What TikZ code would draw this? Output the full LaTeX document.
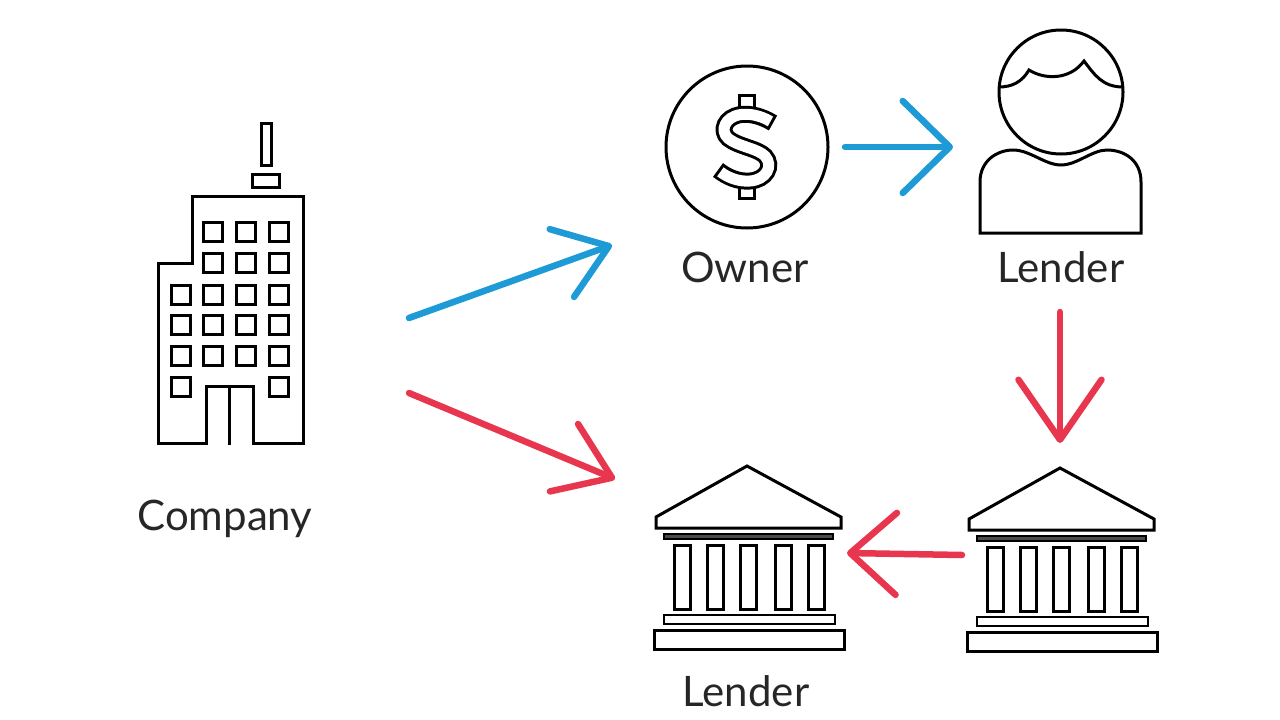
\documentclass[tikz,border=0pt]{standalone}
\usepackage{fontspec}
\setmainfont{Lato}
\usetikzlibrary{arrows.meta}

\definecolor{arrowblue}{HTML}{1E9AD6}
\definecolor{arrowred}{HTML}{E8364F}

\tikzset{
    icon/.style={line width=3pt, line join=miter},
    thinicon/.style={line width=2.6pt},
    label/.style={anchor=base, font=\fontsize{42}{48}\selectfont, text=black!85, inner sep=0pt},
    flow/.style={line width=6.5pt, line cap=round},
    bluearrow/.style={flow, arrowblue},
    redarrow/.style={flow, arrowred},
}

% Banca: stessa icona, due posizioni
\newcommand{\bankicon}{%
    \draw[icon] (0,0) -- (-91,51) -- (-91,62) -- (94,62) -- (94,51) -- cycle;
    \draw[thinicon, fill=black!70] (-83,68) rectangle (86,73);
    \foreach \colx in {-65,-32,1,36,69} {
        \draw[icon] (\colx-8,79) rectangle (\colx+8,143);
    }
    \draw[thinicon] (-83,149) rectangle (88,158);
    \draw[icon] (-93,164) rectangle (97,183);
}

\begin{document}
\begin{tikzpicture}[x=1pt, y=-1pt]
    \useasboundingbox (0,0) rectangle (1280,720);

    % --- Company (edificio) ---
    \draw[icon] (192,263) -- (192,196) -- (303,196) -- (303,443) -- (253,443) -- (253,386)
        -- (206,386) -- (206,443) -- (158,443) -- (158,263) -- cycle;
    \draw[icon] (229,386) -- (229,445);
    \draw[icon] (261,123) rectangle (271,165);
    \draw[icon] (252,174) rectangle (279,187);
    % finestre
    \foreach \winx in {213,246,279} {
        \foreach \winy in {232,263,295,325,356} {
            \draw[icon] (\winx-9.5,\winy-9.5) rectangle (\winx+9.5,\winy+9.5);
        }
    }
    \foreach \winy in {295,325,356,387} {
        \draw[icon] (181-9.5,\winy-9.5) rectangle (181+9.5,\winy+9.5);
    }
    \draw[icon] (279-9.5,387-9.5) rectangle (279+9.5,387+9.5);
    \node[label] (company) at (225,530) {Company};

    % --- Owner (moneta) ---
    \node[circle, draw, line width=3pt, minimum size=162pt, inner sep=0pt] (coin) at (747,147) {};
    \draw[line width=18pt, line cap=butt] (747,94) -- (747,112);
    \draw[white, line width=12pt, shorten <=3pt] (747,94) -- (747,114);
    \draw[line width=18pt, line cap=butt] (747,178) -- (747,200);
    \draw[white, line width=12pt, shorten >=3pt] (747,176) -- (747,200);
    \path[save path=\dollarpath] (773,123) .. controls (760,115) and (745,112) .. (735,116)
        .. controls (722,121) and (720,135) .. (732,141)
        .. controls (742,147) and (758,149) .. (765,156)
        .. controls (774,166) and (766,180) .. (750,181)
        .. controls (738,182) and (727,177) .. (718,170);
    \draw[use path=\dollarpath, line width=17pt];
    \draw[use path=\dollarpath, white, line width=11pt, shorten <=3pt, shorten >=3pt];
    \node[label] (owner) at (745,282) {Owner};

    % --- Lender (persona) ---
    \node[circle, draw, line width=3pt, minimum size=124pt, inner sep=0pt] (head) at (1061,92) {};
    \draw[icon] (999,87) .. controls (1012,87) and (1022,82) .. (1029,70)
        .. controls (1045,80) and (1070,80) .. (1084,61)
        .. controls (1094,74) and (1102,87) .. (1123,87);
    \draw[icon] (980,233) -- (980,182) .. controls (980,160) and (998,150) .. (1013,150)
        .. controls (1030,150) and (1045,165) .. (1061,165)
        .. controls (1077,165) and (1092,150) .. (1107,150)
        .. controls (1124,150) and (1141,160) .. (1141,182) -- (1141,233) -- cycle;
    \node[label] (personlabel) at (1061,282) {Lender};

    % --- Banche ---
    \begin{scope}[shift={(747,466)}]
        \bankicon
    \end{scope}
    \begin{scope}[shift={(1060,468)}]
        \bankicon
    \end{scope}
    \node[label] (banklabel) at (746,706) {Lender};

    % --- Frecce ---
    \coordinate (companyup) at (409,318);
    \coordinate (ownerin) at (612,245);
    \coordinate (companydown) at (409,393);
    \coordinate (bankin) at (615,479);
    \coordinate (coinout) at (845,147);
    \coordinate (personin) at (953,147);
    \coordinate (personout) at (1060,312);
    \coordinate (bankrightin) at (1060,443);
    \coordinate (bankrightout) at (962,555);
    \coordinate (bankleftin) at (847,553);

    \draw[bluearrow, -{Straight Barb[length=50pt, width=72pt, round]}] (companyup) -- (ownerin);
    \draw[bluearrow, -{Straight Barb[length=47pt, width=92pt, round]}] (coinout) -- (personin);
    \draw[redarrow, -{Straight Barb[length=60pt, width=83pt, round]}] (personout) -- (bankrightin);
    \draw[redarrow, -{Straight Barb[length=46pt, width=82pt, round]}] (bankrightout) -- (bankleftin);
    \draw[redarrow, -{Straight Barb[length=52pt, width=73pt, round]}] (companydown) -- (bankin);
\end{tikzpicture}
\end{document}
